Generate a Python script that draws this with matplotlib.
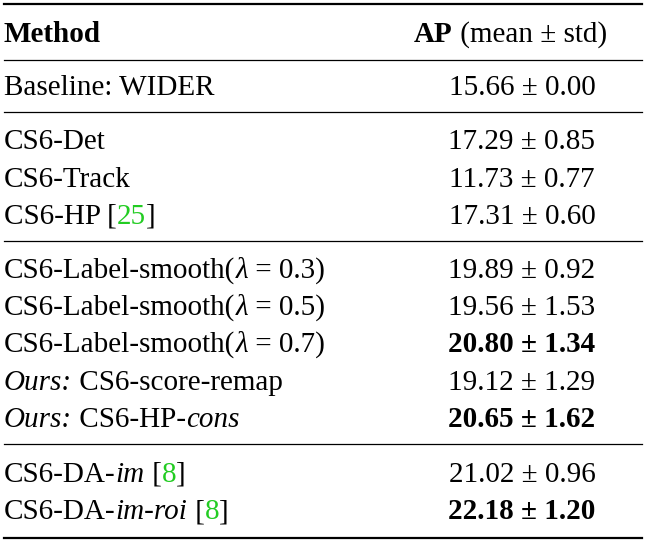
import matplotlib.pyplot as plt

plt.rcParams["font.family"] = "Liberation Serif"

G = "#22cc22"
# rows: list of (text, color, style, weight) pieces for the method name
methods = [
    [("Baseline: WIDER", "k", "normal")],
    [("CS6-Det", "k", "normal")],
    [("CS6-Track", "k", "normal")],
    [("CS6-HP [", "k", "normal"), ("25", G, "normal"), ("]", "k", "normal")],
    [("CS6-Label-smooth(", "k", "normal"), ("λ", "k", "italic"), (" = 0.3)", "k", "normal")],
    [("CS6-Label-smooth(", "k", "normal"), ("λ", "k", "italic"), (" = 0.5)", "k", "normal")],
    [("CS6-Label-smooth(", "k", "normal"), ("λ", "k", "italic"), (" = 0.7)", "k", "normal")],
    [("Ours:", "k", "italic"), (" CS6-score-remap", "k", "normal")],
    [("Ours:", "k", "italic"), (" CS6-HP-", "k", "normal"), ("cons", "k", "italic")],
    [("CS6-DA-", "k", "normal"), ("im", "k", "italic"), (" [", "k", "normal"), ("8", G, "normal"), ("]", "k", "normal")],
    [("CS6-DA-", "k", "normal"), ("im-roi", "k", "italic"), (" [", "k", "normal"), ("8", G, "normal"), ("]", "k", "normal")],
]
means = ["15.66", "17.29", "11.73", "17.31", "19.89", "19.56", "20.80", "19.12", "20.65", "21.02", "22.18"]
stds = ["0.00", "0.85", "0.77", "0.60", "0.92", "1.53", "1.34", "1.29", "1.62", "0.96", "1.20"]
bold = [False, False, False, False, False, False, True, False, True, False, True]
row_y = [95, 149, 187, 224, 278, 315, 352, 390, 427, 482, 519]
rules = [(4, 1.6), (60, 0.9), (112, 0.9), (241, 0.9), (444, 0.9), (538, 1.6)]

fig = plt.figure(figsize=(6.48, 5.5), dpi=100)
ax = fig.add_axes([0, 0, 1, 1])
ax.set_xlim(0, 648)
ax.set_ylim(550, 0)
ax.axis("off")
fig.canvas.draw()
renderer = fig.canvas.get_renderer()

fs = 21
for y, lw in rules:
    ax.plot([4, 642], [y, y], color="k", lw=lw)


def chain(x, y, pieces):
    for txt, col, sty, wt in pieces:
        t = ax.text(x, y, txt, fontsize=fs, color=col, style=sty, fontweight=wt,
                    va="baseline", ha="left")
        bb = t.get_window_extent(renderer)
        x = ax.transData.inverted().transform((bb.x1, bb.y0))[0]
    return x


chain(4, 42, [("Method", "k", "normal", "bold")])
chain(414, 42, [("AP", "k", "normal", "bold"), (" (mean ± std)", "k", "normal", "normal")])

for pieces, m, s, b, y in zip(methods, means, stds, bold, row_y):
    chain(4, y, [p + ("normal",) for p in pieces])
    ax.text(522, y, f"{m} ± {s}", fontsize=fs, va="baseline", ha="center",
            fontweight="bold" if b else "normal")

fig.savefig("out.png", dpi=100)
